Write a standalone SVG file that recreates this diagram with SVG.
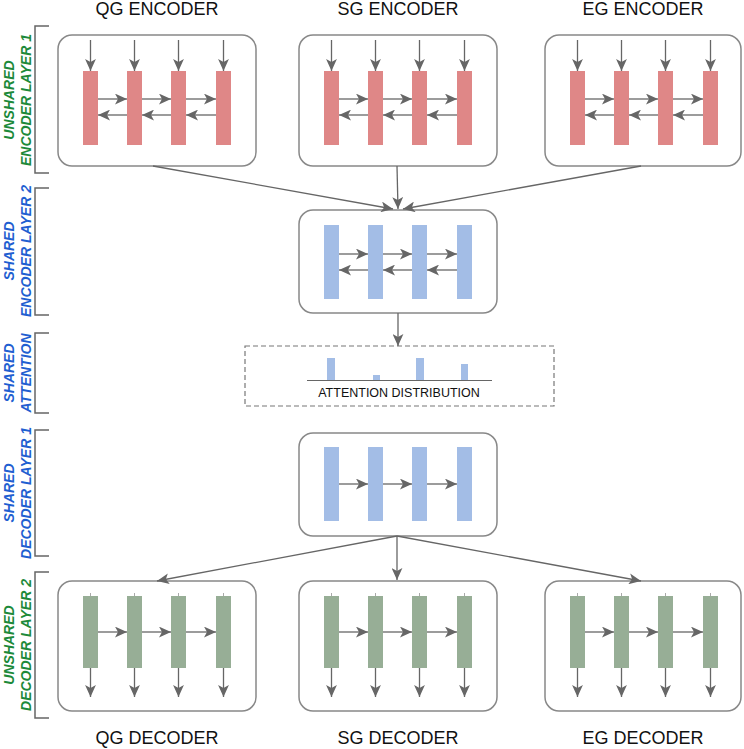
<svg xmlns="http://www.w3.org/2000/svg" width="744" height="749" viewBox="0 0 744 749">
<defs>
<marker id="ah" viewBox="0 0 10 9" markerUnits="userSpaceOnUse" markerWidth="12" markerHeight="11" refX="10" refY="4.5" orient="auto">
<path d="M0,0 L10,4.5 L0,9 L2.5,4.5 z" fill="#666"/>
</marker>
<style>
.box{fill:#fff;stroke:#888;stroke-width:1.5}
.dash{fill:#fff;stroke:#777;stroke-width:1.2;stroke-dasharray:5 3}
.red{fill:#df8787}
.blue{fill:#a3bde6}
.green{fill:#97ae96}
.ar{stroke:#666;stroke-width:1.3;fill:none;marker-end:url(#ah)}
.ln{stroke:#666;stroke-width:1.2;fill:none}
.tick{stroke:#aaa;stroke-width:1}
.br{stroke:#666;stroke-width:1.5;fill:none}
.title{font-family:"Liberation Sans",Arial,sans-serif;font-size:18px;fill:#111;text-anchor:middle}
.lab{font-family:"Liberation Sans",Arial,sans-serif;font-size:14px;font-weight:bold;font-style:italic;text-anchor:middle}
.g{fill:#1d8a3a}
.b{fill:#1f5fd1}
.att{font-family:"Liberation Sans",Arial,sans-serif;font-size:12.5px;fill:#111;text-anchor:middle}
</style>
</defs>

<!-- titles -->
<text class="title" x="157" y="15">QG ENCODER</text>
<text class="title" x="398" y="15">SG ENCODER</text>
<text class="title" x="643" y="15">EG ENCODER</text>
<text class="title" x="157" y="744">QG DECODER</text>
<text class="title" x="398" y="744">SG DECODER</text>
<text class="title" x="643" y="744">EG DECODER</text>

<!-- side labels -->
<g id="label-unshared-enc">
<path class="br" d="M49,26 H35 V173 H49"/>
<text class="lab g" transform="translate(14,100) rotate(-90)">UNSHARED</text>
<text class="lab g" transform="translate(31,100) rotate(-90)">ENCODER LAYER 1</text>
</g>
<g id="label-shared-enc">
<path class="br" d="M49,188 H35 V315 H49"/>
<text class="lab b" transform="translate(14,251) rotate(-90)">SHARED</text>
<text class="lab b" transform="translate(31,251) rotate(-90)">ENCODER LAYER 2</text>
</g>
<g id="label-shared-att">
<path class="br" d="M49,333 H35 V413 H49"/>
<text class="lab b" transform="translate(14,373) rotate(-90)">SHARED</text>
<text class="lab b" transform="translate(31,373) rotate(-90)">ATTENTION</text>
</g>
<g id="label-shared-dec">
<path class="br" d="M49,430 H35 V556 H49"/>
<text class="lab b" transform="translate(14,493) rotate(-90)">SHARED</text>
<text class="lab b" transform="translate(31,493) rotate(-90)">DECODER LAYER 1</text>
</g>
<g id="label-unshared-dec">
<path class="br" d="M49,572 H35 V718 H49"/>
<text class="lab g" transform="translate(14,645) rotate(-90)">UNSHARED</text>
<text class="lab g" transform="translate(31,645) rotate(-90)">DECODER LAYER 2</text>
</g>

<!-- QG encoder -->
<g id="qg-encoder">
<rect class="box" x="58" y="35" width="198" height="131" rx="14"/>
<rect class="red" x="83" y="71" width="15" height="74"/>
<rect class="red" x="127" y="71" width="15" height="74"/>
<rect class="red" x="171" y="71" width="15" height="74"/>
<rect class="red" x="216" y="71" width="15" height="74"/>
<line class="ar" x1="90.5" y1="40" x2="90.5" y2="71"/>
<line class="ar" x1="134.5" y1="40" x2="134.5" y2="71"/>
<line class="ar" x1="178.5" y1="40" x2="178.5" y2="71"/>
<line class="ar" x1="223.5" y1="40" x2="223.5" y2="71"/>
<line class="ar" x1="98" y1="99" x2="127" y2="99"/>
<line class="ar" x1="142" y1="99" x2="171" y2="99"/>
<line class="ar" x1="186" y1="99" x2="216" y2="99"/>
<line class="ar" x1="127" y1="115" x2="98" y2="115"/>
<line class="ar" x1="171" y1="115" x2="142" y2="115"/>
<line class="ar" x1="216" y1="115" x2="186" y2="115"/>
</g>

<!-- SG encoder -->
<g id="sg-encoder">
<rect class="box" x="299" y="35" width="198" height="131" rx="14"/>
<rect class="red" x="324" y="71" width="15" height="74"/>
<rect class="red" x="368" y="71" width="15" height="74"/>
<rect class="red" x="412" y="71" width="15" height="74"/>
<rect class="red" x="457" y="71" width="15" height="74"/>
<line class="ar" x1="331.5" y1="40" x2="331.5" y2="71"/>
<line class="ar" x1="375.5" y1="40" x2="375.5" y2="71"/>
<line class="ar" x1="419.5" y1="40" x2="419.5" y2="71"/>
<line class="ar" x1="464.5" y1="40" x2="464.5" y2="71"/>
<line class="ar" x1="339" y1="99" x2="368" y2="99"/>
<line class="ar" x1="383" y1="99" x2="412" y2="99"/>
<line class="ar" x1="427" y1="99" x2="457" y2="99"/>
<line class="ar" x1="368" y1="115" x2="339" y2="115"/>
<line class="ar" x1="412" y1="115" x2="383" y2="115"/>
<line class="ar" x1="457" y1="115" x2="427" y2="115"/>
</g>

<!-- EG encoder -->
<g id="eg-encoder">
<rect class="box" x="545" y="35" width="196" height="131" rx="14"/>
<rect class="red" x="570" y="71" width="15" height="74"/>
<rect class="red" x="614" y="71" width="15" height="74"/>
<rect class="red" x="658" y="71" width="15" height="74"/>
<rect class="red" x="703" y="71" width="15" height="74"/>
<line class="ar" x1="577.5" y1="40" x2="577.5" y2="71"/>
<line class="ar" x1="621.5" y1="40" x2="621.5" y2="71"/>
<line class="ar" x1="665.5" y1="40" x2="665.5" y2="71"/>
<line class="ar" x1="710.5" y1="40" x2="710.5" y2="71"/>
<line class="ar" x1="585" y1="99" x2="614" y2="99"/>
<line class="ar" x1="629" y1="99" x2="658" y2="99"/>
<line class="ar" x1="673" y1="99" x2="703" y2="99"/>
<line class="ar" x1="614" y1="115" x2="585" y2="115"/>
<line class="ar" x1="658" y1="115" x2="629" y2="115"/>
<line class="ar" x1="703" y1="115" x2="673" y2="115"/>
</g>

<!-- shared encoder layer 2 -->
<g id="shared-encoder">
<rect class="box" x="299" y="210" width="198" height="103" rx="14"/>
<rect class="blue" x="324" y="225" width="15" height="74"/>
<rect class="blue" x="368" y="225" width="15" height="74"/>
<rect class="blue" x="412" y="225" width="15" height="74"/>
<rect class="blue" x="457" y="225" width="15" height="74"/>
<line class="ar" x1="339" y1="254" x2="368" y2="254"/>
<line class="ar" x1="383" y1="254" x2="412" y2="254"/>
<line class="ar" x1="427" y1="254" x2="457" y2="254"/>
<line class="ar" x1="368" y1="270" x2="339" y2="270"/>
<line class="ar" x1="412" y1="270" x2="383" y2="270"/>
<line class="ar" x1="457" y1="270" x2="427" y2="270"/>
</g>

<!-- attention -->
<g id="shared-attention">
<rect class="dash" x="245" y="346" width="309" height="60"/>
<rect class="blue" x="327" y="358" width="8" height="22"/>
<rect class="blue" x="373" y="375" width="7" height="5"/>
<rect class="blue" x="416" y="358" width="8" height="22"/>
<rect class="blue" x="461" y="364" width="7" height="16"/>
<line class="ln" x1="307" y1="380.5" x2="492" y2="380.5"/>
<text class="att" x="399" y="397">ATTENTION DISTRIBUTION</text>
</g>

<!-- shared decoder layer 1 -->
<g id="shared-decoder">
<rect class="box" x="299" y="433" width="198" height="103" rx="14"/>
<rect class="blue" x="324" y="447" width="15" height="74"/>
<rect class="blue" x="368" y="447" width="15" height="74"/>
<rect class="blue" x="412" y="447" width="15" height="74"/>
<rect class="blue" x="457" y="447" width="15" height="74"/>
<line class="ar" x1="339" y1="484" x2="368" y2="484"/>
<line class="ar" x1="383" y1="484" x2="412" y2="484"/>
<line class="ar" x1="427" y1="484" x2="457" y2="484"/>
</g>

<!-- QG decoder -->
<g id="qg-decoder">
<rect class="box" x="58" y="581" width="198" height="130" rx="14"/>
<line class="tick" x1="90.5" y1="593" x2="90.5" y2="596"/>
<line class="tick" x1="134.5" y1="593" x2="134.5" y2="596"/>
<line class="tick" x1="178.5" y1="593" x2="178.5" y2="596"/>
<line class="tick" x1="223.5" y1="593" x2="223.5" y2="596"/>
<rect class="green" x="83" y="596" width="15" height="72"/>
<rect class="green" x="127" y="596" width="15" height="72"/>
<rect class="green" x="171" y="596" width="15" height="72"/>
<rect class="green" x="216" y="596" width="15" height="72"/>
<line class="ar" x1="98" y1="632" x2="127" y2="632"/>
<line class="ar" x1="142" y1="632" x2="171" y2="632"/>
<line class="ar" x1="186" y1="632" x2="216" y2="632"/>
<line class="ar" x1="90.5" y1="668" x2="90.5" y2="697"/>
<line class="ar" x1="134.5" y1="668" x2="134.5" y2="697"/>
<line class="ar" x1="178.5" y1="668" x2="178.5" y2="697"/>
<line class="ar" x1="223.5" y1="668" x2="223.5" y2="697"/>
</g>

<!-- SG decoder -->
<g id="sg-decoder">
<rect class="box" x="299" y="581" width="198" height="130" rx="14"/>
<line class="tick" x1="331.5" y1="593" x2="331.5" y2="596"/>
<line class="tick" x1="375.5" y1="593" x2="375.5" y2="596"/>
<line class="tick" x1="419.5" y1="593" x2="419.5" y2="596"/>
<line class="tick" x1="464.5" y1="593" x2="464.5" y2="596"/>
<rect class="green" x="324" y="596" width="15" height="72"/>
<rect class="green" x="368" y="596" width="15" height="72"/>
<rect class="green" x="412" y="596" width="15" height="72"/>
<rect class="green" x="457" y="596" width="15" height="72"/>
<line class="ar" x1="339" y1="632" x2="368" y2="632"/>
<line class="ar" x1="383" y1="632" x2="412" y2="632"/>
<line class="ar" x1="427" y1="632" x2="457" y2="632"/>
<line class="ar" x1="331.5" y1="668" x2="331.5" y2="697"/>
<line class="ar" x1="375.5" y1="668" x2="375.5" y2="697"/>
<line class="ar" x1="419.5" y1="668" x2="419.5" y2="697"/>
<line class="ar" x1="464.5" y1="668" x2="464.5" y2="697"/>
</g>

<!-- EG decoder -->
<g id="eg-decoder">
<rect class="box" x="545" y="581" width="196" height="130" rx="14"/>
<line class="tick" x1="577.5" y1="593" x2="577.5" y2="596"/>
<line class="tick" x1="621.5" y1="593" x2="621.5" y2="596"/>
<line class="tick" x1="665.5" y1="593" x2="665.5" y2="596"/>
<line class="tick" x1="710.5" y1="593" x2="710.5" y2="596"/>
<rect class="green" x="570" y="596" width="15" height="72"/>
<rect class="green" x="614" y="596" width="15" height="72"/>
<rect class="green" x="658" y="596" width="15" height="72"/>
<rect class="green" x="703" y="596" width="15" height="72"/>
<line class="ar" x1="585" y1="632" x2="614" y2="632"/>
<line class="ar" x1="629" y1="632" x2="658" y2="632"/>
<line class="ar" x1="673" y1="632" x2="703" y2="632"/>
<line class="ar" x1="577.5" y1="668" x2="577.5" y2="697"/>
<line class="ar" x1="621.5" y1="668" x2="621.5" y2="697"/>
<line class="ar" x1="665.5" y1="668" x2="665.5" y2="697"/>
<line class="ar" x1="710.5" y1="668" x2="710.5" y2="697"/>
</g>

<!-- connectors -->
<g id="connectors">
<line class="ar" x1="153" y1="166" x2="393" y2="209"/>
<line class="ar" x1="397" y1="166" x2="398" y2="209"/>
<line class="ar" x1="641" y1="166" x2="403" y2="209"/>
<line class="ar" x1="398" y1="313" x2="398" y2="346"/>
<line class="ar" x1="397" y1="536" x2="157" y2="581"/>
<line class="ar" x1="397" y1="536" x2="397" y2="580"/>
<line class="ar" x1="397" y1="536" x2="641" y2="581"/>
</g>
</svg>
